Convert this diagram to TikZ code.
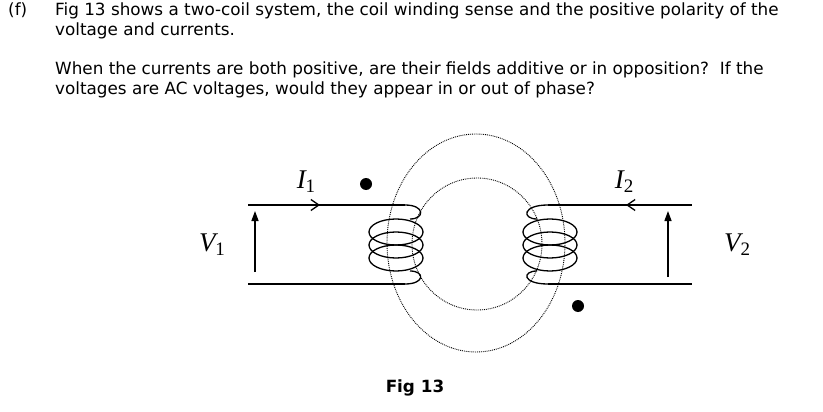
\documentclass[tikz,border=0pt]{standalone}
\usepackage{fontspec}
\setmainfont{DejaVu Sans}
\newfontfamily\serifm{Liberation Serif}
\usetikzlibrary{arrows.meta}
\begin{document}
\begin{tikzpicture}[x=1pt,y=-1pt,
  wire/.style={line width=1.3pt},
  flux/.style={densely dotted,line width=0.9pt},
  coil/.style={line width=1.3pt},
  txt/.style={anchor=north west,inner sep=0,font=\fontsize{16.8}{20}\selectfont,align=left},
  lab/.style={font=\serifm\itshape\fontsize{27}{27}\selectfont,inner sep=0},
  sub/.style={},
  dot/.style={circle,fill=black,minimum size=12pt,inner sep=0}]
\useasboundingbox (0,0) rectangle (823,412);
\node[txt] (f) at (8,3) {(f)};
\node[txt] (p1) at (55,3) {Fig 13 shows a two-coil system, the coil winding sense and the positive polarity of the\\voltage and currents.};
\node[txt] (p2) at (55,62) {When the currents are both positive, are their fields additive or in opposition?\ \ If the\\voltages are AC voltages, would they appear in or out of phase?};
\node[font=\bfseries\fontsize{16.8}{18}\selectfont] (fig) at (415,388) {Fig 13};
% flux
\draw[flux] (476,243) ellipse[x radius=89,y radius=109];
\draw[flux] (477,244) ellipse[x radius=65,y radius=66];
% wires
\coordinate (a1) at (248,205); \coordinate (a2) at (405,205);
\coordinate (b1) at (248,284); \coordinate (b2) at (405,284);
\coordinate (c1) at (548,205); \coordinate (c2) at (692,205);
\coordinate (d1) at (548,284); \coordinate (d2) at (692,284);
\draw[wire] (a1)--(a2); \draw[wire] (b1)--(b2);
\draw[wire] (c1)--(c2); \draw[wire] (d1)--(d2);
% left coil
\foreach \y in {232,245,258} \draw[coil] (396,\y) ellipse[x radius=27,y radius=13];
\draw[coil] (a2) .. controls (425,205) and (425,219) .. (410,219);
\draw[coil] (b2) .. controls (425,284) and (425,271) .. (410,271);
% right coil
\foreach \y in {232,245,258} \draw[coil] (550,\y) ellipse[x radius=27,y radius=13];
\draw[coil] (c1) .. controls (522,205) and (522,219) .. (537,219);
\draw[coil] (d1) .. controls (522,284) and (522,271) .. (537,271);
% current arrows
\coordinate (i1) at (320,205); \coordinate (i2) at (626,205);
\draw[wire,-{Straight Barb[length=8pt,width=11pt]}] (300,205)--(i1);
\draw[wire,-{Straight Barb[length=8pt,width=11pt]}] (650,205)--(i2);
% voltage arrows
\coordinate (v1a) at (255,272); \coordinate (v1b) at (255,211);
\coordinate (v2a) at (668,277); \coordinate (v2b) at (668,211);
\draw[line width=1.3pt,-{Triangle[length=10pt,width=7pt]}] (v1a)--(v1b);
\draw[line width=1.3pt,-{Triangle[length=10pt,width=7pt]}] (v2a)--(v2b);
% labels
\node[lab] (I1) at (306,182) {I\raisebox{-4pt}{\upshape\fontsize{19}{19}\selectfont 1}};
\node[lab] (I2) at (624,182) {I\raisebox{-4pt}{\upshape\fontsize{19}{19}\selectfont 2}};
\node[lab] (V1) at (212,245) {V\raisebox{-4pt}{\upshape\fontsize{19}{19}\selectfont 1}};
\node[lab] (V2) at (737,245) {V\raisebox{-4pt}{\upshape\fontsize{19}{19}\selectfont 2}};
\node[dot] (d1dot) at (366,184) {};
\node[dot] (d2dot) at (578,306) {};
\end{tikzpicture}
\end{document}
